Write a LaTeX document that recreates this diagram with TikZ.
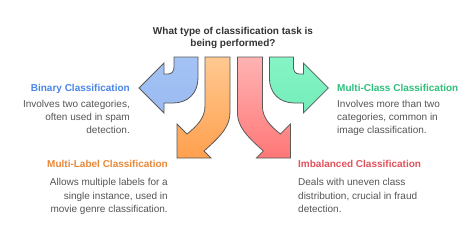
\documentclass[tikz,border=0pt]{standalone}
\usepackage{fontspec}
\setmainfont{Liberation Sans}
\definecolor{titlec}{HTML}{333333}
\definecolor{bodyc}{HTML}{555555}
\definecolor{edgec}{HTML}{5A5A5A}
\definecolor{bluet}{HTML}{4A86E8}
\definecolor{greent}{HTML}{2FBF7C}
\definecolor{oranget}{HTML}{E8883A}
\definecolor{redt}{HTML}{E0525C}
\definecolor{bluef}{HTML}{A4C2F4}
\definecolor{bluef2}{HTML}{9ABBF2}
\definecolor{greenf}{HTML}{86F4C6}
\definecolor{greenf2}{HTML}{74EDBA}
\definecolor{orangef}{HTML}{FFC991}
\definecolor{orangef2}{HTML}{FFA04E}
\definecolor{redf}{HTML}{FFB3B3}
\definecolor{redf2}{HTML}{FF7777}
\begin{document}
\begin{tikzpicture}[x=1pt,y=-1pt,
  arrowshape/.style={draw=edgec,line width=0.8pt,line join=miter},
  headtext/.style={font=\bfseries\fontsize{10}{12}\selectfont,inner sep=0pt},
  bodytext/.style={font=\fontsize{10}{13.2}\selectfont,text=bodyc,inner sep=0pt},
  titletext/.style={font=\bfseries\fontsize{10}{12.5}\selectfont,text=titlec,align=center,inner sep=0pt}]
\useasboundingbox[fill=white] (0,0) rectangle (474,234);

% title
\node[titletext] (title) at (233,38) {What type of classification task is\\being performed?};

% blue arrow (binary)
\path[arrowshape,top color=bluef,bottom color=bluef2]
  (174,57) -- (198,57) -- (198,78) .. controls (198,93) and (188,103) .. (173,103)
  -- (164,103) -- (164,113) -- (139,88) -- (164,63) -- (164,74) -- (168,74)
  .. controls (172,74) and (174,71) .. (174,67) -- cycle;

% green arrow (multi-class)
\path[arrowshape,top color=greenf,bottom color=greenf2]
  (293.4,57) -- (269.4,57) -- (269.4,78) .. controls (269.4,93) and (279.4,103) .. (294.4,103)
  -- (303.4,103) -- (303.4,113) -- (328.4,88) -- (303.4,63) -- (303.4,74) -- (299.4,74)
  .. controls (295.4,74) and (293.4,71) .. (293.4,67) -- cycle;

% orange arrow (multi-label)
\path[arrowshape,top color=orangef,bottom color=orangef2]
  (205,57) -- (205,106) .. controls (205,118) and (197,126) .. (187,134)
  -- (177,124) -- (177,158) -- (211,158) -- (204,151)
  .. controls (222,135) and (230,126) .. (230,112) -- (230,57) -- cycle;

% red arrow (imbalanced)
\path[arrowshape,top color=redf,bottom color=redf2]
  (262.4,57) -- (262.4,106) .. controls (262.4,118) and (270.4,126) .. (280.4,134)
  -- (290.4,124) -- (290.4,158) -- (256.4,158) -- (263.4,151)
  .. controls (245.4,135) and (237.4,126) .. (237.4,112) -- (237.4,57) -- cycle;

% binary
\node[headtext,text=bluet,anchor=base east] (binh) at (130,91.5) {Binary Classification};
\node[bodytext,align=right,anchor=north east] (binb) at (130,100) {Involves two categories,\\often used in spam\\detection.};

% multi-class
\node[headtext,text=greent,anchor=base west] (mch) at (337,91.5) {Multi-Class Classification};
\node[bodytext,align=left,anchor=north west] (mcb) at (337,100) {Involves more than two\\categories, common in\\image classification.};

% multi-label
\node[headtext,text=oranget,anchor=base east] (mlh) at (168,167.5) {Multi-Label Classification};
\node[bodytext,align=right,anchor=north east] (mlb) at (168,178.5) {Allows multiple labels for a\\single instance, used in\\movie genre classification.};

% imbalanced
\node[headtext,text=redt,anchor=base west] (imh) at (298,167.5) {Imbalanced Classification};
\node[bodytext,align=left,anchor=north west] (imb) at (298,178.5) {Deals with uneven class\\distribution, crucial in fraud\\detection.};
\end{tikzpicture}
\end{document}
